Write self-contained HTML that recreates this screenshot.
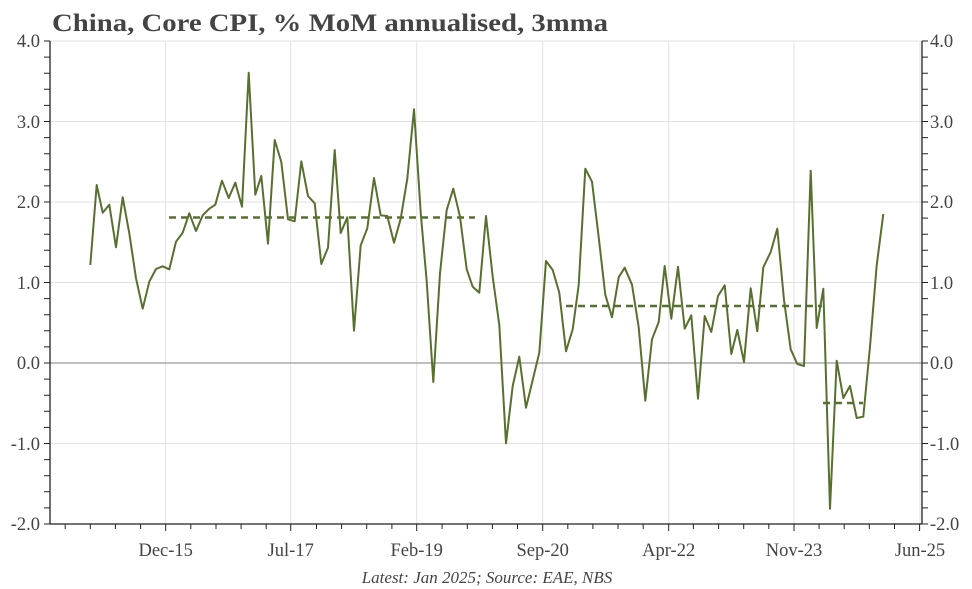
<!DOCTYPE html>
<html><head><meta charset="utf-8"><style>html,body{margin:0;padding:0;background:#fff}svg{display:block}</style></head>
<body>
<svg width="972" height="589" viewBox="0 0 972 589" xmlns="http://www.w3.org/2000/svg" font-family="'Liberation Serif', serif">
<text x="52" y="31" font-size="25" font-weight="bold" fill="#444" textLength="556" lengthAdjust="spacingAndGlyphs">China, Core CPI, % MoM annualised, 3mma</text>
<g stroke="#e2e2e2" stroke-width="1">
<line x1="50" y1="41" x2="922" y2="41"/><line x1="50" y1="121.5" x2="922" y2="121.5"/><line x1="50" y1="202" x2="922" y2="202"/><line x1="50" y1="282.5" x2="922" y2="282.5"/><line x1="50" y1="443.5" x2="922" y2="443.5"/>
<line x1="165.7" y1="41" x2="165.7" y2="524"/><line x1="290.7" y1="41" x2="290.7" y2="524"/><line x1="416.7" y1="41" x2="416.7" y2="524"/><line x1="542.7" y1="41" x2="542.7" y2="524"/><line x1="668.7" y1="41" x2="668.7" y2="524"/><line x1="794" y1="41" x2="794" y2="524"/><line x1="920" y1="41" x2="920" y2="524"/>
</g>
<line x1="50" y1="363" x2="922" y2="363" stroke="#999" stroke-width="1.2"/>
<g stroke="#222" stroke-width="1.3" fill="none">
<line x1="50" y1="41" x2="50" y2="524"/><line x1="922" y1="41" x2="922" y2="524"/><line x1="50" y1="524" x2="922" y2="524"/>
</g>
<path stroke="#222" stroke-width="1" fill="none" d="M44,41h6M44,57.1h6M44,73.2h6M44,89.3h6M44,105.4h6M44,121.5h6M44,137.6h6M44,153.7h6M44,169.8h6M44,185.9h6M44,202h6M44,218.1h6M44,234.2h6M44,250.3h6M44,266.4h6M44,282.5h6M44,298.6h6M44,314.7h6M44,330.8h6M44,346.9h6M44,363h6M44,379.1h6M44,395.2h6M44,411.3h6M44,427.4h6M44,443.5h6M44,459.6h6M44,475.7h6M44,491.8h6M44,507.9h6M44,524h6
M922,41h6M922,57.1h6M922,73.2h6M922,89.3h6M922,105.4h6M922,121.5h6M922,137.6h6M922,153.7h6M922,169.8h6M922,185.9h6M922,202h6M922,218.1h6M922,234.2h6M922,250.3h6M922,266.4h6M922,282.5h6M922,298.6h6M922,314.7h6M922,330.8h6M922,346.9h6M922,363h6M922,379.1h6M922,395.2h6M922,411.3h6M922,427.4h6M922,443.5h6M922,459.6h6M922,475.7h6M922,491.8h6M922,507.9h6M922,524h6
M65.2,524v5M90.3,524v5M115.4,524v5M140.6,524v5M165.7,524v7M190.8,524v5M216,524v5M241.1,524v5M266.2,524v5M290.7,524v7M316.5,524v5M341.6,524v5M366.7,524v5M391.9,524v5M416.7,524v7M442.1,524v5M467.3,524v5M492.4,524v5M517.5,524v5M542.7,524v7M567.8,524v5M592.9,524v5M618,524v5M643.2,524v5M668.7,524v7M693.4,524v5M718.6,524v5M743.7,524v5M768.8,524v5M794,524v7M819.1,524v5M844.2,524v5M869.3,524v5M894.5,524v5M919.6,524v7"/>
<g fill="#444" font-size="18.5">
<g text-anchor="end">
<text x="40" y="47">4.0</text><text x="40" y="128">3.0</text><text x="40" y="208">2.0</text><text x="40" y="289">1.0</text><text x="40" y="369">0.0</text><text x="40" y="450">-1.0</text><text x="40" y="530">-2.0</text>
</g>
<text x="930" y="47">4.0</text><text x="930" y="128">3.0</text><text x="930" y="208">2.0</text><text x="930" y="289">1.0</text><text x="930" y="369">0.0</text><text x="930" y="450">-1.0</text><text x="930" y="530">-2.0</text>
<g text-anchor="middle">
<text x="165.7" y="556">Dec-15</text><text x="290.7" y="556">Jul-17</text><text x="416.7" y="556">Feb-19</text><text x="542.7" y="556">Sep-20</text><text x="668.7" y="556">Apr-22</text><text x="794" y="556">Nov-23</text><text x="920" y="556">Jun-25</text>
</g>
<text x="487" y="583" text-anchor="middle" font-style="italic" font-size="17">Latest: Jan 2025; Source: EAE, NBS</text>
</g>
<g stroke="#58702f" stroke-width="2.6" stroke-dasharray="7,5">
<line x1="169" y1="217.5" x2="475" y2="217.5"/><line x1="566" y1="306" x2="822" y2="306"/><line x1="823" y1="403" x2="863" y2="403"/>
</g>
<polyline fill="none" stroke="#58702f" stroke-width="2" stroke-linejoin="round" points="90.3,265 96.7,185 102.7,212.7 109.3,204.7 116,247.3 122.7,197.3 129.3,233.3 136,278.3 142.7,308.7 149.3,281.7 156,269 162.7,266.3 169.3,269.3 176,241.7 182.7,232.7 189.3,213.3 196,231 202.7,215.3 209.3,208.7 215.3,204.7 222,180.7 228.7,198 235.3,182.7 242,206.7 248.7,72.7 255.3,194.7 261.3,176 268,243.7 274.7,140 281.3,162 288,219.3 294.7,221.3 301.3,161.3 308,196 314.7,203.3 321.3,264 328,247.7 334.7,150 340.7,233 347.3,217.3 354,330.7 360.7,245.3 367.3,228.3 374,178 380.7,215.3 387.3,216 394,242.7 400.7,218.7 407.3,178.7 414,109.3 420.7,212.7 426.7,281.3 433.3,382 440,273.3 446.7,210 453.3,188.7 460,216.7 466.7,269.3 472.7,286.7 479.3,292.7 486,216 492.7,276.7 499.3,325 506,443.3 512.7,386 519.3,356.7 526,407.7 532.7,380 539.3,352.7 546,261 552.7,270 559.3,292.7 566,351.3 572.7,329.3 578.7,285 585.3,168.7 592,181.7 598.7,237.3 605.3,294.7 612,317.3 618.7,277.3 624.7,267.7 632,284.7 638.7,327.3 645.3,400.7 652,339.3 658.7,322 664.7,266 671.3,318.7 678,266.7 684.7,328.7 691.3,315.3 698,398.7 704.7,316 711.3,332 718,296 724.7,285.3 731.3,354 737.3,330 744,362 750.7,288.3 757.3,331.3 763.3,267.3 770.7,252 777.3,228.7 784,300 790.7,349.3 797.3,364 804,366 810.7,170.7 816.7,328 823.3,288.7 830,508.7 836.7,360.7 843.3,398 850,386 856.7,418 863.3,416.7 870,346.7 876.7,265.3 883.3,214"/>
</svg>
</body></html>
